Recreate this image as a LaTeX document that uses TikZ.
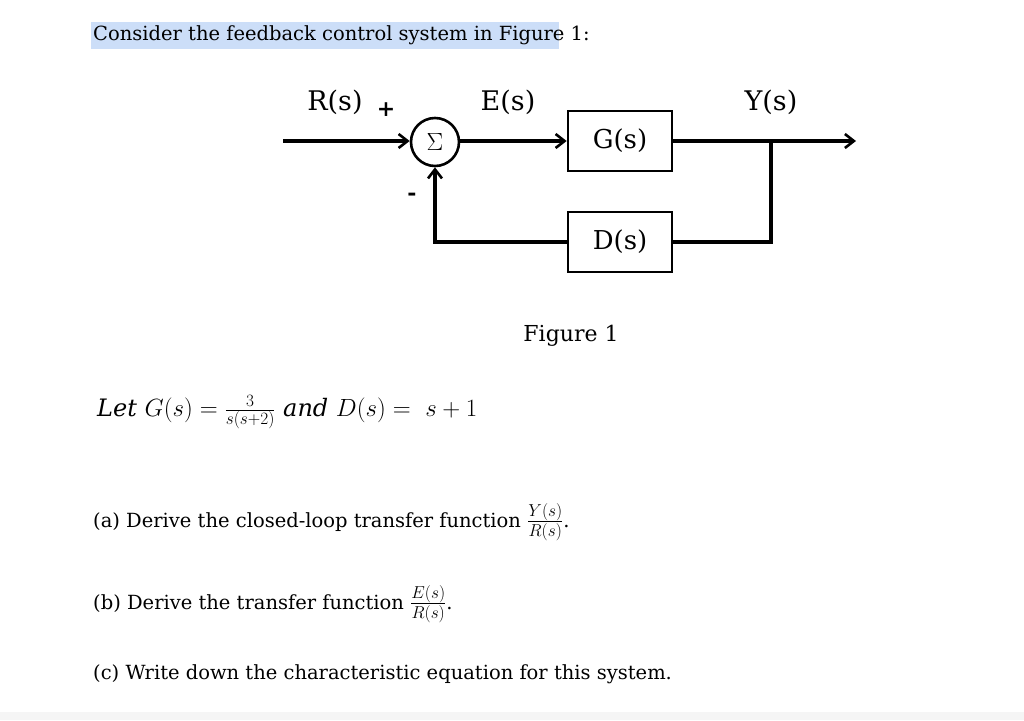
\documentclass[tikz,border=0pt]{standalone}
\usepackage{fontspec}
\setmainfont{DejaVu Serif}
\usetikzlibrary{arrows.meta}
\definecolor{hl}{RGB}{204,222,248}
\begin{document}
\begin{tikzpicture}[x=1pt,y=-1pt,
  wire/.style={line width=3.2pt},
  arr/.style={wire,-{Straight Barb[length=9pt,width=14pt,line width=2.6pt]}},
  blk/.style={draw,line width=2.6pt,minimum width=104pt,minimum height=60pt,font=\fontsize{26}{28}\selectfont},
  lab/.style={font=\fontsize{27}{30}\selectfont},
  txt/.style={font=\fontsize{19.5}{24}\selectfont,anchor=west,inner sep=0pt}]
\useasboundingbox (0,0) rectangle (1024,720);
\fill[black!4] (0,712) rectangle (1024,720);
\fill[hl] (91,22) rectangle (559,49);
\node[txt] (title) at (93,35) {Consider the feedback control system in Figure 1:};
\node[circle,draw,line width=2.6pt,minimum size=48pt,inner sep=0pt,font=\fontsize{24}{26}\selectfont] (sum) at (435,142) {$\Sigma$};
\node[blk] (G) at (620,141) {G(s)};
\node[blk] (D) at (620,242) {D(s)};
\coordinate (in) at (283,141);
\coordinate (out) at (856,141);
\coordinate (br) at (771,141);
\draw[arr] (in) -- (sum.west|-in);
\draw[arr] (sum.east|-G) -- (G.west);
\draw[arr] (G.east) -- (out);
\draw[wire] (br) |- (D.east);
\draw[arr] (D.west) -| (sum.south);
\node[lab] (R) at (335,102) {R(s)};
\node[font=\fontsize{22}{22}\selectfont\bfseries] (plus) at (386,110) {+};
\node[lab] (E) at (508,102) {E(s)};
\node[lab] (Y) at (771,102) {Y(s)};
\node[font=\fontsize{22}{22}\selectfont\bfseries] (minus) at (412,197) {-};
\node[font=\fontsize{22}{26}\selectfont] (fig) at (571,336) {Figure 1};
\node[txt] (let) at (97,412) {\fontsize{24}{26}\selectfont $\mathit{Let}\ G(s)=\frac{3}{s(s+2)}\ \mathit{and}\ D(s)=\ s+1$};
\node[txt] (a) at (93,522) {(a) Derive the closed-loop transfer function {\fontsize{24}{26}\selectfont$\frac{Y(s)}{R(s)}$}.};
\node[txt] (b) at (93,604) {(b) Derive the transfer function {\fontsize{24}{26}\selectfont$\frac{E(s)}{R(s)}$}.};
\node[txt] (c) at (93,674) {(c) Write down the characteristic equation for this system.};
\end{tikzpicture}
\end{document}
